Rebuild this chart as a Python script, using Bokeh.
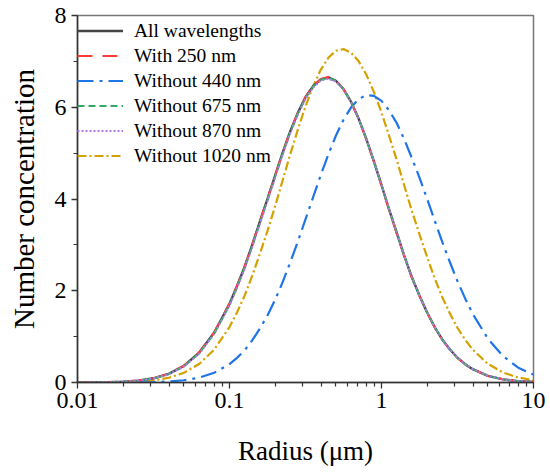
from bokeh.plotting import figure
from bokeh.models import (Range1d, FixedTicker, CustomJSTickFormatter, Legend, LegendItem)
from bokeh.embed import file_html
from bokeh.resources import INLINE

radius = [0.01, 0.0126, 0.0158, 0.02, 0.0251, 0.0316, 0.0398, 0.0501, 0.0631, 0.0794,
          0.1, 0.112, 0.126, 0.141, 0.158, 0.178, 0.2, 0.224, 0.251, 0.282,
          0.316, 0.355, 0.398, 0.447, 0.501, 0.562, 0.631, 0.708, 0.794, 0.891,
          1.0, 1.12, 1.26, 1.41, 1.58, 1.78, 2.0, 2.24, 2.51, 2.82,
          3.16, 3.55, 3.98, 5.01, 6.31, 7.94, 10.0]

all_wl = [0.001, 0.003, 0.007, 0.018, 0.042, 0.092, 0.188, 0.361, 0.648, 1.089,
          1.715, 2.100, 2.529, 2.997, 3.494, 4.006, 4.520, 5.016, 5.477, 5.883,
          6.217, 6.462, 6.609, 6.650, 6.578, 6.397, 6.115, 5.747, 5.309, 4.822,
          4.305, 3.777, 3.259, 2.764, 2.304, 1.888, 1.521, 1.204, 0.938, 0.718,
          0.540, 0.400, 0.290, 0.146, 0.068, 0.030, 0.012]

with_250 = [0.001, 0.003, 0.008, 0.019, 0.044, 0.095, 0.192, 0.366, 0.655, 1.098,
            1.724, 2.110, 2.540, 3.008, 3.504, 4.015, 4.528, 5.022, 5.482, 5.887,
            6.220, 6.466, 6.614, 6.660, 6.585, 6.400, 6.114, 5.744, 5.304, 4.816,
            4.298, 3.770, 3.252, 2.758, 2.299, 1.884, 1.518, 1.202, 0.937, 0.718,
            0.541, 0.401, 0.291, 0.147, 0.069, 0.030, 0.012]

wo_440 = [0.0000, 0.0001, 0.0004, 0.0012, 0.0034, 0.0088, 0.0216, 0.0494, 0.106, 0.213,
          0.401, 0.537, 0.707, 0.917, 1.168, 1.465, 1.808, 2.193, 2.619, 3.076,
          3.554, 4.040, 4.518, 4.970, 5.378, 5.726, 5.997, 6.180, 6.264, 6.248,
          6.138, 5.937, 5.655, 5.305, 4.901, 4.459, 3.995, 3.525, 3.063, 2.621,
          2.208, 1.833, 1.498, 0.955, 0.573, 0.323, 0.172]

wo_675 = [0.001, 0.003, 0.007, 0.017, 0.040, 0.089, 0.183, 0.353, 0.636, 1.072,
          1.694, 2.077, 2.505, 2.972, 3.469, 3.982, 4.497, 4.995, 5.458, 5.867,
          6.203, 6.451, 6.600, 6.642, 6.574, 6.397, 6.118, 5.752, 5.316, 4.830,
          4.313, 3.785, 3.266, 2.770, 2.309, 1.892, 1.524, 1.206, 0.939, 0.719,
          0.540, 0.400, 0.290, 0.146, 0.068, 0.030, 0.012]

wo_870 = [0.001, 0.003, 0.007, 0.017, 0.039, 0.087, 0.179, 0.346, 0.625, 1.057,
          1.675, 2.056, 2.482, 2.948, 3.444, 3.957, 4.472, 4.970, 5.433, 5.842,
          6.178, 6.426, 6.576, 6.620, 6.556, 6.383, 6.108, 5.746, 5.314, 4.831,
          4.316, 3.789, 3.271, 2.775, 2.314, 1.896, 1.527, 1.208, 0.941, 0.720,
          0.541, 0.400, 0.290, 0.146, 0.068, 0.030, 0.012]

wo_1020 = [0.0004, 0.0011, 0.0031, 0.0082, 0.0203, 0.0473, 0.103, 0.210, 0.402, 0.720,
           1.209, 1.527, 1.900, 2.323, 2.795, 3.309, 3.853, 4.415, 4.976, 5.517,
           6.017, 6.456, 6.816, 7.078, 7.231, 7.268, 7.190, 7.002, 6.713, 6.335,
           5.886, 5.385, 4.849, 4.299, 3.752, 3.224, 2.727, 2.270, 1.861, 1.502,
           1.193, 0.933, 0.718, 0.407, 0.216, 0.108, 0.051]

labels = ["All wavelengths", "With 250 nm", "Without 440 nm", "Without 675 nm",
          "Without 870 nm", "Without 1020 nm"]
x_ticks = [0.01, 0.1, 1, 10]
y_ticks = [0, 2, 4, 6, 8]
y_minor = [1, 3, 5, 7]

FONT = "Liberation Serif"

p = figure(width=545, height=468, x_axis_type="log", output_backend="svg",
           toolbar_location=None, x_range=Range1d(0.01, 10), y_range=Range1d(0, 8),
           min_border_left=77, min_border_right=12, min_border_top=15, min_border_bottom=86)
p.grid.visible = False
p.background_fill_color = "white"
p.outline_line_color = "#777777"
p.outline_line_width = 1.5

minor = []
for dec in [0.01, 0.1, 1]:
    for m in range(2, 10):
        minor.append(dec * m)
p.xaxis.ticker = FixedTicker(ticks=x_ticks, minor_ticks=minor)
p.xaxis.formatter = CustomJSTickFormatter(code="return String(parseFloat(tick.toPrecision(3)));")
p.yaxis.ticker = FixedTicker(ticks=y_ticks, minor_ticks=y_minor)

for ax in [p.xaxis[0], p.yaxis[0]]:
    ax.axis_line_color = "#333333"
    ax.axis_line_width = 1.5
    ax.major_tick_line_color = "#333333"
    ax.minor_tick_line_color = "#333333"
    ax.major_tick_line_width = 1.3
    ax.minor_tick_line_width = 1.2
    ax.major_tick_out = 6
    ax.major_tick_in = 0
    ax.minor_tick_out = 4
    ax.minor_tick_in = 0
    ax.major_label_text_font = FONT
    ax.major_label_text_font_size = "24px"
    ax.major_label_text_color = "black"
    ax.axis_label_text_font = FONT
    ax.axis_label_text_font_style = "normal"
    ax.axis_label_text_color = "black"

p.xaxis.axis_label = "Radius (μm)"
p.yaxis.axis_label = "Number concentration"
p.xaxis.axis_label_text_font_size = "27px"
p.yaxis.axis_label_text_font_size = "29px"
p.xaxis.major_label_standoff = 4
p.yaxis.major_label_standoff = 5
p.xaxis.axis_label_standoff = 25
p.yaxis.axis_label_standoff = 12

r_1020 = p.line(radius, wo_1020, line_color="#D4A100", line_width=2.2, line_dash="9 3 2 3")
r_440 = p.line(radius, wo_440, line_color="#1F74E8", line_width=2.2, line_dash="16 6 3 6")
r_all = p.line(radius, all_wl, line_color="#454545", line_width=2.4)
r_250 = p.line(radius, with_250, line_color="#FF3B3B", line_width=2, line_dash="15 10")
r_675 = p.line(radius, wo_675, line_color="#2EAA62", line_width=2, line_dash="7 4")
r_870 = p.line(radius, wo_870, line_color="#B57BEA", line_width=2, line_dash="2 2")

items = [LegendItem(label=labels[0], renderers=[r_all]),
         LegendItem(label=labels[1], renderers=[r_250]),
         LegendItem(label=labels[2], renderers=[r_440]),
         LegendItem(label=labels[3], renderers=[r_675]),
         LegendItem(label=labels[4], renderers=[r_870]),
         LegendItem(label=labels[5], renderers=[r_1020])]
legend = Legend(items=items, location=(0, 214))
legend.border_line_color = None
legend.background_fill_alpha = 0
legend.label_text_font = FONT
legend.label_text_font_size = "19.5px"
legend.label_text_color = "black"
legend.glyph_width = 46
legend.glyph_height = 25
legend.label_height = 25
legend.spacing = 0
legend.padding = 6
legend.margin = 0
legend.label_standoff = 11
p.add_layout(legend)

open("out.html", "w").write(file_html(p, INLINE))
